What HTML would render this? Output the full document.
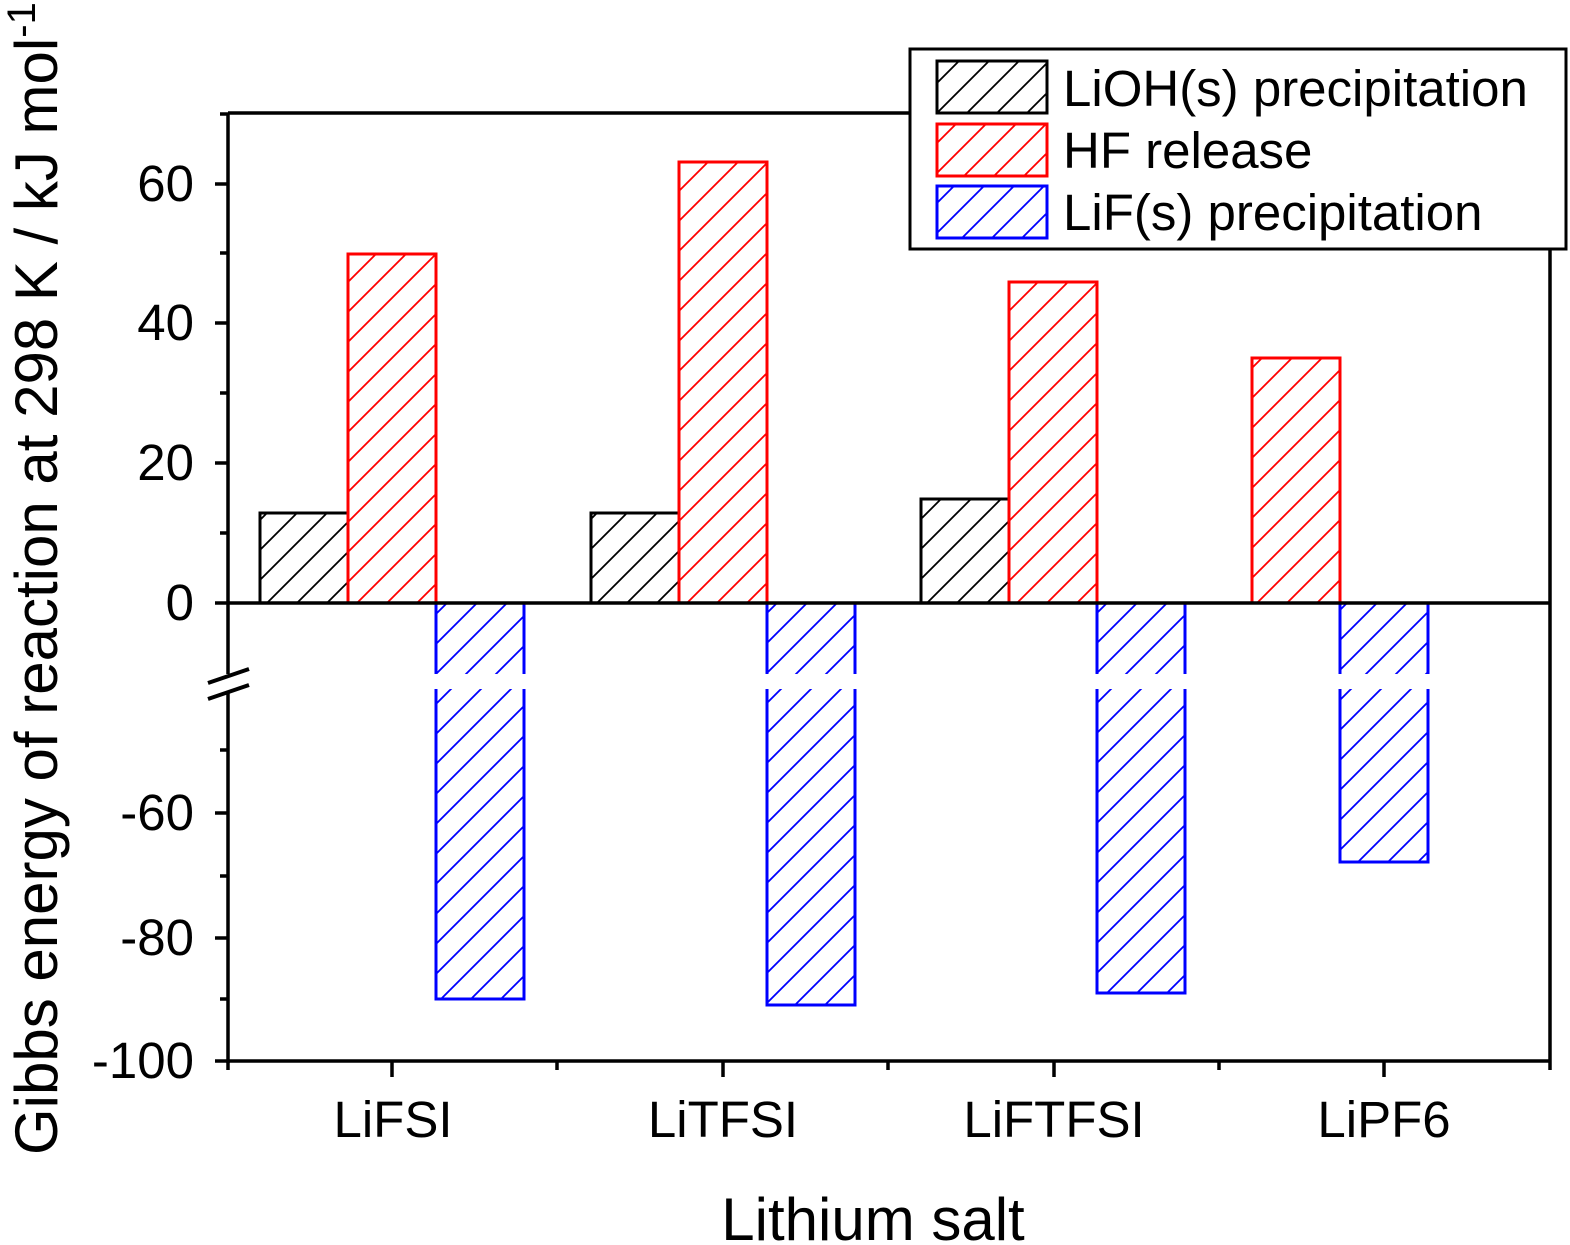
<!DOCTYPE html>
<html><head><meta charset="utf-8"><style>body{margin:0;background:#fff}svg{display:block}</style></head><body>
<svg width="1570" height="1245" viewBox="0 0 1570 1245" xmlns="http://www.w3.org/2000/svg" font-family="Liberation Sans, sans-serif">
<defs>
<pattern id="hk" patternUnits="userSpaceOnUse" width="30" height="30"><path d="M-5,35 L35,-5 M-35,35 L35,-35 M-5,65 L65,-5" stroke="#000" stroke-width="1.8"/></pattern>
<pattern id="hr" patternUnits="userSpaceOnUse" width="30" height="30"><path d="M-5,35 L35,-5 M-35,35 L35,-35 M-5,65 L65,-5" stroke="#f00" stroke-width="1.8"/></pattern>
<pattern id="hb" patternUnits="userSpaceOnUse" width="30" height="30"><path d="M-5,35 L35,-5 M-35,35 L35,-35 M-5,65 L65,-5" stroke="#00f" stroke-width="1.8"/></pattern>
</defs>
<g stroke-width="3">
<rect x="260" y="513" width="88" height="90" fill="url(#hk)" stroke="#000"/>
<rect x="591" y="513" width="88" height="90" fill="url(#hk)" stroke="#000"/>
<rect x="921" y="499" width="88" height="104" fill="url(#hk)" stroke="#000"/>
<rect x="348" y="254" width="88" height="349" fill="url(#hr)" stroke="#f00"/>
<rect x="679" y="162" width="88" height="441" fill="url(#hr)" stroke="#f00"/>
<rect x="1009" y="282" width="88" height="321" fill="url(#hr)" stroke="#f00"/>
<rect x="1252" y="358" width="88" height="245" fill="url(#hr)" stroke="#f00"/>
<rect x="436" y="603" width="88" height="396" fill="url(#hb)" stroke="#00f"/>
<rect x="767" y="603" width="88" height="402" fill="url(#hb)" stroke="#00f"/>
<rect x="1097" y="603" width="88" height="390" fill="url(#hb)" stroke="#00f"/>
<rect x="1340" y="603" width="88" height="259" fill="url(#hb)" stroke="#00f"/>
</g>
<rect x="300" y="674" width="1200" height="15" fill="#fff"/>
<g stroke="#000" stroke-width="3.5" fill="none">
<path d="M228,113 H910 M1550,249 V1061 M228,1061 H1550 M215,603 H1550"/>
<path d="M228,113 V674 M228,692 V1063"/>
<path d="M208,683 L249,669 M208,699 L249,685" stroke-width="4"/>
<path d="M215,184H228M215,323H228M215,463H228M215,813H228M215,938H228M215,1061H228"/>
<path d="M220,114H228M220,253H228M220,393H228M220,533H228M220,750H228M220,876H228M220,999H228"/>
<path d="M392,1061V1077M723,1061V1077M1054,1061V1077M1384,1061V1077M228,1061V1070M557,1061V1070M888,1061V1070M1219,1061V1070M1550,1061V1070"/>
</g>
<g font-size="51" text-anchor="end">
<text x="194" y="201">60</text><text x="194" y="340">40</text><text x="194" y="480">20</text><text x="194" y="620">0</text>
<text x="194" y="830">-60</text><text x="194" y="955">-80</text><text x="194" y="1078">-100</text>
</g>
<g font-size="51" text-anchor="middle">
<text x="393" y="1137">LiFSI</text><text x="723" y="1137">LiTFSI</text><text x="1054" y="1137">LiFTFSI</text><text x="1384" y="1137">LiPF6</text>
</g>
<text x="873" y="1240" font-size="60" text-anchor="middle">Lithium salt</text>
<text transform="translate(57,1155) rotate(-90)" font-size="60">Gibbs energy of reaction at 298 K / kJ mol<tspan dy="-22" font-size="40">-1</tspan></text>
<rect x="910" y="49" width="656" height="200" fill="#fff" stroke="#000" stroke-width="3"/>
<g stroke-width="3">
<rect x="937" y="61" width="110" height="52" fill="url(#hk)" stroke="#000"/>
<rect x="937" y="124" width="110" height="52" fill="url(#hr)" stroke="#f00"/>
<rect x="937" y="186" width="110" height="52" fill="url(#hb)" stroke="#00f"/>
</g>
<g font-size="51">
<text x="1063" y="106">LiOH(s) precipitation</text>
<text x="1063" y="168">HF release</text>
<text x="1063" y="230">LiF(s) precipitation</text>
</g>
</svg>
</body></html>
